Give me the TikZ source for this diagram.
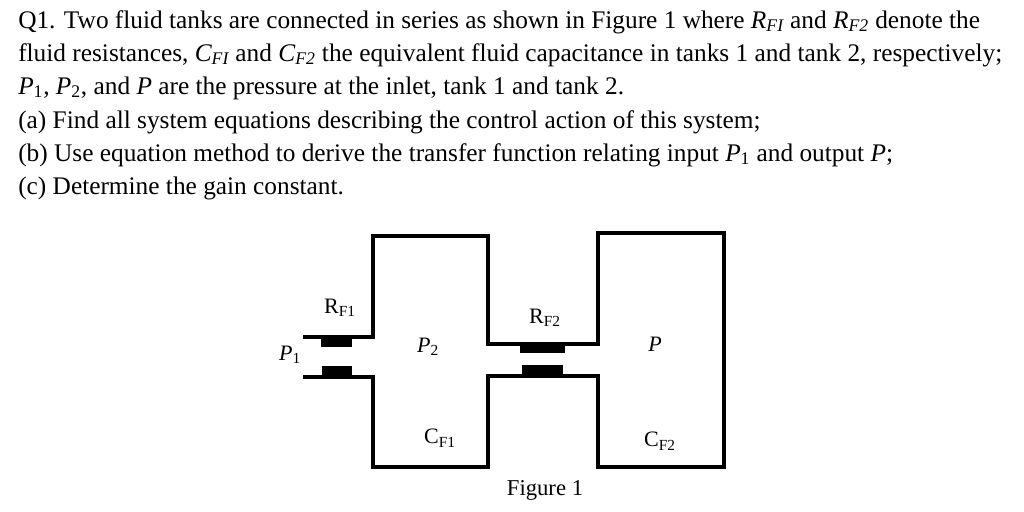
\documentclass[tikz,border=0pt]{standalone}
\usepackage{fontspec}
\setmainfont{Liberation Serif}
\begin{document}
\begin{tikzpicture}[x=0.75pt,y=-0.75pt,
  wall/.style={line width=3pt,line cap=rect},
  blk/.style={fill=black},
  txt/.style={anchor=base west,inner sep=0pt,font=\fontsize{19}{22}\selectfont},
  lbl/.style={inner sep=0pt,font=\fontsize{16.5}{19}\selectfont}]
\useasboundingbox (0,0) rectangle (1024,511);
\node[txt] (l1) at (18,28) {Q1. Two fluid tanks are connected in series as shown in Figure 1 where \textit{R\textsubscript{FI}} and \textit{R\textsubscript{F2}} denote the};
\node[txt] (l2) at (18,61) {fluid resistances, \textit{C\textsubscript{FI}} and \textit{C\textsubscript{F2}} the equivalent fluid capacitance in tanks 1 and tank 2, respectively;};
\node[txt] (l3) at (18,94) {\textit{P}\textsubscript{1}, \textit{P}\textsubscript{2}, and \textit{P} are the pressure at the inlet, tank 1 and tank 2.};
\node[txt] (l4) at (18,128) {(a) Find all system equations describing the control action of this system;};
\node[txt] (l5) at (18,161) {(b) Use equation method to derive the transfer function relating input \textit{P}\textsubscript{1} and output \textit{P};};
\node[txt] (l6) at (18,194) {(c) Determine the gain constant.};
\draw[wall] (373,337) -- (373,236) -- (488,236) -- (488,344) -- (598,344) -- (598,233) -- (724,233) -- (724,467) -- (598,467) -- (598,376) -- (488,376) -- (488,467) -- (373,467) -- (373,377) -- (305,377);
\draw[wall] (305,337) -- (373,337);
\fill[blk] (321,337) rectangle (352,347);
\fill[blk] (322,366) rectangle (352,377);
\fill[blk] (520,344) rectangle (565,353);
\fill[blk] (522,365) rectangle (563,376);
\node[lbl] (rf1) at (340,308) {R\textsubscript{F1}};
\node[lbl] (rf2) at (545,318) {R\textsubscript{F2}};
\node[lbl] (p2) at (428,347) {\textit{P}\textsubscript{2}};
\node[lbl] (p1) at (290,355) {\textit{P}\textsubscript{1}};
\node[lbl] (p) at (655,344) {\textit{P}};
\node[lbl] (cf1) at (440,438) {C\textsubscript{F1}};
\node[lbl] (cf2) at (660,441) {C\textsubscript{F2}};
\node[inner sep=0pt,font=\fontsize{17}{20}\selectfont] (fig) at (545,490) {Figure 1};
\end{tikzpicture}
\end{document}
